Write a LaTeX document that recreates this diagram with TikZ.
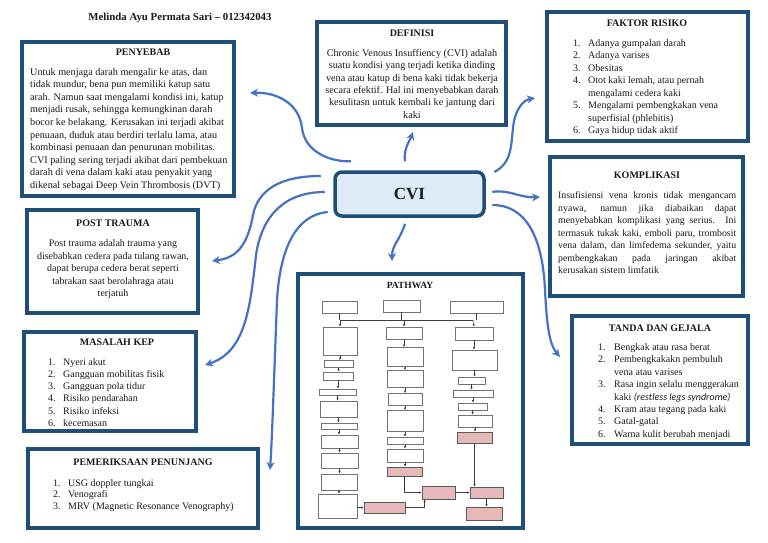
\documentclass[tikz,border=0pt]{standalone}
\usepackage{fontspec}
\setmainfont{Liberation Serif}
\newfontfamily\calfont{Carlito}
\usetikzlibrary{arrows.meta,calc}
\definecolor{boxblue}{HTML}{1F4E79}
\definecolor{arrblue}{HTML}{4472C4}
\definecolor{cvifill}{HTML}{DEEBF7}
\definecolor{pinkfill}{HTML}{E6B9B8}
\definecolor{txtcol}{HTML}{1A1A1A}
\begin{document}
\begin{tikzpicture}[x=1pt,y=-1pt,
  mainbox/.style={draw=boxblue, line width=4pt, fill=white, inner sep=0pt, rectangle},
  conn/.style={draw=arrblue, line width=2.2pt, -{Stealth[length=8pt,width=8pt]}},
  txt/.style={inner sep=0pt, text=txtcol},
  ttl/.style={inner sep=0pt, anchor=base, text=txtcol, font=\fontsize{10}{12}\selectfont\bfseries},
  pbox/.style={draw=black!55, line width=0.6pt, fill=white, inner sep=0pt},
  ppink/.style={pbox, fill=pinkfill, draw=black!65},
  parr/.style={draw=black!75, line width=0.5pt, -{Latex[length=2.5pt,width=2.2pt]}},
  pline/.style={draw=black!75, line width=0.5pt}]
\useasboundingbox (0,0) rectangle (768,543);
\fill[white] (0,0) rectangle (768,543);

% header
\node[txt, anchor=base, font=\fontsize{10.8}{13}\selectfont\bfseries] (header) at (180,21) {Melinda Ayu Permata Sari -- 012342043};

% main boxes
\node[mainbox, minimum width=212pt, minimum height=154pt] (penyebab) at (128,119) {};
\node[mainbox, minimum width=189pt, minimum height=103pt] (definisi) at (411.5,73.5) {};
\node[mainbox, minimum width=201pt, minimum height=129pt] (faktor) at (647.5,76.5) {};
\node[mainbox, minimum width=193pt, minimum height=139pt] (komplikasi) at (646.5,226.5) {};
\node[mainbox, minimum width=171pt, minimum height=103pt] (posttrauma) at (112.5,261.5) {};
\node[mainbox, minimum width=172pt, minimum height=99pt] (masalah) at (110,381.5) {};
\node[mainbox, minimum width=230pt, minimum height=79pt] (pemeriksaan) at (143,488.5) {};
\node[mainbox, minimum width=176pt, minimum height=128pt] (tanda) at (660,380) {};
\node[mainbox, minimum width=225pt, minimum height=254pt] (pathway) at (410.5,401) {};
\node[draw=boxblue, line width=3.5pt, fill=cvifill, rounded corners=7pt, minimum width=149pt, minimum height=44pt, inner sep=0pt, font=\fontsize{17}{20}\selectfont\bfseries, text=txtcol] (cvi) at (409.5,194) {CVI};

% PENYEBAB
\node[ttl] (penyebabT) at (143,56) {PENYEBAB};
\node[txt, anchor=base west, font=\fontsize{10.2}{12.6}\selectfont] (penyebabX) at (30,75) {\begin{tabular}[t]{@{}l@{}}
Untuk menjaga darah mengalir ke atas, dan\\
tidak mundur, bena pun memiliki katup satu\\
arah. Namun saat mengalami kondisi ini, katup\\
menjadi rusak, sehingga kemungkinan darah\\
bocor ke belakang. Kerusakan ini terjadi akibat\\
penuaan, duduk atau berdiri terlalu lama, atau\\
kombinasi penuaan dan penurunan mobilitas.\\
CVI paling sering terjadi akibat dari pembekuan\\
darah di vena dalam kaki atau penyakit yang\\
dikenal sebagai Deep Vein Thrombosis (DVT)
\end{tabular}};

% DEFINISI
\node[ttl] (definisiT) at (412,36.5) {DEFINISI};
\node[txt, anchor=base, font=\fontsize{10.2}{12.35}\selectfont] (definisiX) at (412,56.5) {\begin{tabular}[t]{@{}c@{}}
Chronic Venous Insuffiency (CVI) adalah\\
suatu kondisi yang terjadi ketika dinding\\
vena atau katup di bena kaki tidak bekerja\\
secara efektif. Hal ini menyebabkan darah\\
kesulitasn untuk kembali ke jantung dari\\
kaki
\end{tabular}};

% FAKTOR RISIKO
\node[ttl] (faktorT) at (647,26.5) {FAKTOR RISIKO};
\node[txt, anchor=base west, font=\fontsize{10}{12.45}\selectfont] (faktorX) at (573,46.5) {\begin{tabular}[t]{@{}p{15pt}@{}l@{}}
1. & Adanya gumpalan darah\\
2. & Adanya varises\\
3. & Obesitas\\
4. & Otot kaki lemah, atau pernah\\
   & mengalami cedera kaki\\
5. & Mengalami pembengkakan vena\\
   & superfisial (phlebitis)\\
6. & Gaya hidup tidak aktif
\end{tabular}};

% KOMPLIKASI
\node[ttl] (komplikasiT) at (647,178.5) {KOMPLIKASI};
\node[txt, anchor=base west, font=\fontsize{9.8}{12.5}\selectfont] (komplikasiX) at (558,198.5) {\begin{tabular}[t]{@{}l@{}}
\makebox[178pt][s]{Insufisiensi vena kronis tidak mengancam}\\
\makebox[178pt][s]{nyawa, namun jika diabaikan dapat}\\
\makebox[178pt][s]{menyebabkan komplikasi yang serius. Ini}\\
\makebox[178pt][s]{termasuk tukak kaki, emboli paru, trombosit}\\
\makebox[178pt][s]{vena dalam, dan limfedema sekunder, yaitu}\\
\makebox[178pt][s]{pembengkakan pada jaringan akibat}\\
kerusakan sistem limfatik
\end{tabular}};

% POST TRAUMA
\node[ttl] (postT) at (113,226.5) {POST TRAUMA};
\node[txt, anchor=base, font=\fontsize{10}{12.5}\selectfont] (postX) at (113,246.5) {\begin{tabular}[t]{@{}c@{}}
Post trauma adalah trauma yang\\
disebabkan cedera pada tulang rawan,\\
dapat berupa cedera berat seperti\\
tabrakan saat berolahraga atau\\
terjatuh
\end{tabular}};

% MASALAH KEP
\node[ttl] (masalahT) at (117,345.5) {MASALAH KEP};
\node[txt, anchor=base west, font=\fontsize{10}{12.3}\selectfont] (masalahX) at (48,365) {\begin{tabular}[t]{@{}p{15pt}@{}l@{}}
1. & Nyeri akut\\
2. & Gangguan mobilitas fisik\\
3. & Gangguan pola tidur\\
4. & Risiko pendarahan\\
5. & Risiko infeksi\\
6. & kecemasan
\end{tabular}};

% PEMERIKSAAN
\node[ttl] (pemT) at (143,465.5) {PEMERIKSAAN PENUNJANG};
\node[txt, anchor=base west, font=\fontsize{10}{11.8}\selectfont] (pemX) at (53,486) {\begin{tabular}[t]{@{}p{15pt}@{}l@{}}
1. & USG doppler tungkai\\
2. & Venografi\\
3. & MRV (Magnetic Resonance Venography)
\end{tabular}};

% TANDA DAN GEJALA
\node[ttl] (tandaT) at (660,331.5) {TANDA DAN GEJALA};
\node[txt, anchor=base west, font=\fontsize{10}{12.4}\selectfont] (tandaX) at (598,350.5) {\begin{tabular}[t]{@{}p{16pt}@{}l@{}}
1. & Bengkak atau rasa berat\\
2. & Pembengkakakn pembuluh\\
   & vena atau varises\\
3. & Rasa ingin selalu menggerakan\\
   & kaki {\calfont\itshape (restless legs syndrome)}\\
4. & Kram atau tegang pada kaki\\
5. & Gatal-gatal\\
6. & Warna kulit berubah menjadi
\end{tabular}};

% PATHWAY
\node[ttl, font=\fontsize{9.5}{11}\selectfont\bfseries] (pathwayT) at (410,288.5) {PATHWAY};

% pathway top row
\node[pbox, minimum width=35pt, minimum height=12pt] (t1) at (339.5,307) {};
\node[pbox, minimum width=37pt, minimum height=12pt] (t2) at (401.5,306) {};
\node[pbox, minimum width=53pt, minimum height=12pt] (t3) at (476.5,307) {};
% column 1
\node[pbox, minimum width=34pt, minimum height=28pt] (c1a) at (340,341) {};
\node[pbox, minimum width=29pt, minimum height=7pt] (c1b) at (338.5,364) {};
\node[pbox, minimum width=30pt, minimum height=8pt] (c1c) at (338,376) {};
\node[pbox, minimum width=37pt, minimum height=6pt] (c1d) at (337.5,392) {};
\node[pbox, minimum width=37pt, minimum height=16pt] (c1e) at (338.5,409) {};
\node[pbox, minimum width=36pt, minimum height=6pt] (c1f) at (339,426) {};
\node[pbox, minimum width=37pt, minimum height=13pt] (c1g) at (339.5,441.5) {};
\node[pbox, minimum width=37pt, minimum height=15pt] (c1h) at (339.5,460.5) {};
\node[pbox, minimum width=36pt, minimum height=16pt] (c1i) at (339,482) {};
\node[pbox, minimum width=39pt, minimum height=24pt] (c1j) at (337.5,506) {};
\node[ppink, minimum width=41pt, minimum height=11pt] (p1) at (384.5,507.5) {};
% column 2
\node[pbox, minimum width=36pt, minimum height=12pt] (c2a) at (404,333) {};
\node[pbox, minimum width=36pt, minimum height=19pt] (c2b) at (405,357) {};
\node[pbox, minimum width=36pt, minimum height=17pt] (c2c) at (405,379) {};
\node[pbox, minimum width=34pt, minimum height=12pt] (c2d) at (405,399.5) {};
\node[pbox, minimum width=36pt, minimum height=21pt] (c2e) at (405,421) {};
\node[pbox, minimum width=36pt, minimum height=7pt] (c2f) at (405,440.5) {};
\node[pbox, minimum width=36pt, minimum height=13pt] (c2g) at (405,455.5) {};
\node[ppink, minimum width=35pt, minimum height=9pt] (p2) at (404.5,471.5) {};
\node[ppink, minimum width=33pt, minimum height=13pt] (p3) at (438.5,492.5) {};
% column 3
\node[pbox, minimum width=38pt, minimum height=13pt] (c3a) at (474,333.5) {};
\node[pbox, minimum width=45pt, minimum height=20pt] (c3b) at (474.5,360) {};
\node[pbox, minimum width=27pt, minimum height=7pt] (c3c) at (471.5,380.5) {};
\node[pbox, minimum width=40pt, minimum height=7pt] (c3d) at (473,393.5) {};
\node[pbox, minimum width=29pt, minimum height=7pt] (c3e) at (472.5,406.5) {};
\node[pbox, minimum width=34pt, minimum height=12pt] (c3f) at (475,421) {};
\node[ppink, minimum width=35pt, minimum height=11pt] (p4) at (474.5,437.5) {};
\node[ppink, minimum width=33pt, minimum height=11pt] (p5) at (486.5,492.5) {};
\node[ppink, minimum width=36pt, minimum height=13pt] (p6) at (484,513.5) {};

% pathway bus
\coordinate (busL) at (340,320);
\coordinate (busR) at (473,320);
\draw[pline] (busL) -- (busR);
\draw[pline] (t1.south) -- (t1.south |- busL);
\draw[pline] (t2.south) -- (t2.south |- busL);
\draw[pline] (t3.south) -- (t3.south |- busL);
\draw[parr] (c1a.north |- busL) -- (c1a.north);
\draw[parr] (c2a.north |- busL) -- (c2a.north);
\draw[parr] (busR) -- (c3a.north);
% column chains
\foreach \a/\b in {c1a/c1b,c1b/c1c,c1c/c1d,c1d/c1e,c1e/c1f,c1f/c1g,c1g/c1h,c1h/c1i,c1i/c1j,
                   c2a/c2b,c2b/c2c,c2c/c2d,c2d/c2e,c2e/c2f,c2f/c2g,c2g/p2,
                   c3a/c3b,c3b/c3c,c3c/c3d,c3d/c3e,c3e/c3f,c3f/p4,p5/p6}
  \draw[parr] (\a.south) -- (\a.south |- \b.north);
\draw[parr] (c1j.east |- p1.west) -- (p1.west);
\draw[parr] (p1.east) -| ([xshift=3pt]p3.south west);
\draw[parr] (p2.south) |- (p3.west);
\draw[parr] (p3.east) -- (p3.east -| p5.west);
\draw[parr] (p4.south) -- (p4.south |- p5.north);

% connectors from CVI
\draw[conn] ([shift={(-4.5,-9)}]cvi.north) .. controls (403,150) and (410,140) .. ([shift={(1.5,5)}]definisi.south);
\draw[conn] ([shift={(17.5,-9)}]cvi.north west) .. controls (330,162) and (305,152) .. (302,128) .. controls (299,102) and (275,92) .. ([shift={(14,-26)}]penyebab.east);
\draw[conn] ([shift={(-12.5,-18)}]cvi.west) .. controls (280,176) and (258,190) .. (253,215) .. controls (247,248) and (235,258) .. ([shift={(12,-0.5)}]posttrauma.east);
\draw[conn] ([shift={(-8.5,-2)}]cvi.west) .. controls (285,192) and (262,215) .. (256,255) .. controls (250,310) and (245,352) .. ([shift={(7,-16.5)}]masalah.east);
\draw[conn] ([shift={(-5.5,18)}]cvi.west) .. controls (295,215) and (280,250) .. (277,300) .. controls (274,380) and (272,440) .. ([shift={(10,-18.5)}]pemeriksaan.east);
\draw[conn] ([shift={(-4.5,6)}]cvi.south) .. controls (400,240) and (392,245) .. ([shift={(-18.5,-11)}]pathway.north);
\draw[conn] ([shift={(8.5,-22)}]cvi.east) .. controls (512,163) and (511,145) .. (513,128) .. controls (515,108) and (524,100) .. ([shift={(-10,21.5)}]faktor.west);
\draw[conn] ([shift={(6.5,-2)}]cvi.east) .. controls (508,189) and (520,198) .. ([shift={(-8,-29.5)}]komplikasi.west);
\draw[conn] ([shift={(6.5,11)}]cvi.east) .. controls (530,205) and (543,245) .. (545,290) .. controls (547,330) and (550,345) .. ([shift={(-10,-23)}]tanda.west);
\end{tikzpicture}
\end{document}
